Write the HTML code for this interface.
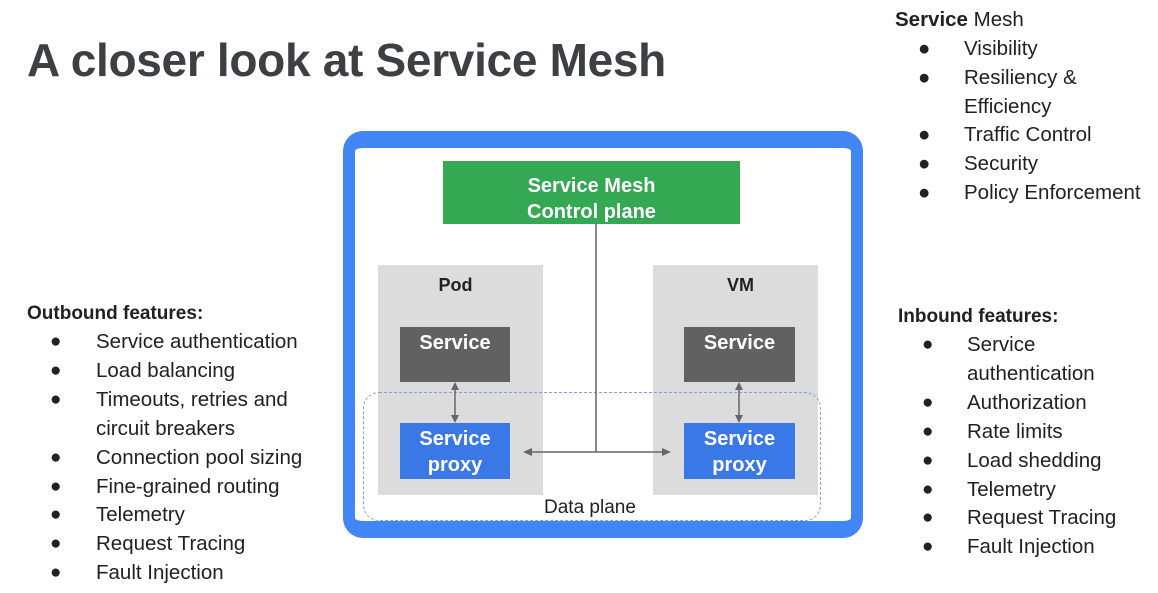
<!DOCTYPE html>
<html><head><meta charset="utf-8"><style>
body{margin:0;width:1158px;height:593px;background:#fff;position:relative;overflow:hidden;font-family:"Liberation Sans",sans-serif;color:#202124}
.a{position:absolute;white-space:nowrap}
.t{font-size:20.5px;line-height:29px}
.box{position:absolute;color:#fff;font-weight:bold;font-size:20px;text-align:center;line-height:26px}
</style></head><body>
<div class="a" style="left:27px;top:33px;font-size:46px;font-weight:bold;color:#3c4043;letter-spacing:-0.3px">A closer look at Service Mesh</div>

<div class="a t" style="left:895px;top:5px"><b>Service</b> Mesh</div>
<div class="a t" style="left:918px;top:34px">●</div><div class="a t" style="left:964px;top:34px">Visibility</div>
<div class="a t" style="left:918px;top:63px">●</div><div class="a t" style="left:964px;top:63px">Resiliency &amp;</div>
<div class="a t" style="left:964px;top:92px">Efficiency</div>
<div class="a t" style="left:918px;top:120px">●</div><div class="a t" style="left:964px;top:120px">Traffic Control</div>
<div class="a t" style="left:918px;top:149px">●</div><div class="a t" style="left:964px;top:149px">Security</div>
<div class="a t" style="left:918px;top:178px">●</div><div class="a t" style="left:964px;top:178px">Policy Enforcement</div>

<div class="a t" style="left:27px;top:299px;font-weight:bold;font-size:19px">Outbound features:</div>
<div class="a t" style="left:50px;top:328px;line-height:28.9px;font-size:19px">●<br>●<br>●<br><br>●<br>●<br>●<br>●<br>●</div>
<div class="a t" style="left:96px;top:328px;line-height:28.9px">Service authentication<br>Load balancing<br>Timeouts, retries and<br>circuit breakers<br>Connection pool sizing<br>Fine-grained routing<br>Telemetry<br>Request Tracing<br>Fault Injection</div>

<div class="a t" style="left:898px;top:302px;font-weight:bold;font-size:19px">Inbound features:</div>
<div class="a t" style="left:922px;top:331px;line-height:28.9px;font-size:19px">●<br><br>●<br>●<br>●<br>●<br>●<br>●</div>
<div class="a t" style="left:967px;top:331px;line-height:28.9px">Service<br>authentication<br>Authorization<br>Rate limits<br>Load shedding<br>Telemetry<br>Request Tracing<br>Fault Injection</div>

<div class="a" style="left:343px;top:131px;width:496px;height:373px;border:12px solid #4285f4;border-top-width:17px;border-bottom-width:17px;border-radius:20px"></div>
<div class="box" style="left:443px;top:161px;width:297px;height:63px;background:#34a853;padding-top:12px;box-sizing:border-box">Service Mesh<br>Control plane</div>
<div class="a" style="left:378px;top:265px;width:165px;height:230px;background:#dcdcdc"></div>
<div class="a" style="left:653px;top:265px;width:165px;height:230px;background:#dcdcdc"></div>
<div class="a" style="left:378px;top:275px;width:155px;text-align:center;font-weight:bold;font-size:18px">Pod</div>
<div class="a" style="left:663px;top:275px;width:155px;text-align:center;font-weight:bold;font-size:18px">VM</div>
<div class="box" style="left:400px;top:327px;width:110px;height:55px;background:#616161;padding-top:3px;box-sizing:border-box">Service</div>
<div class="box" style="left:684px;top:327px;width:111px;height:55px;background:#616161;padding-top:3px;box-sizing:border-box">Service</div>
<div class="box" style="left:400px;top:423px;width:110px;height:56px;background:#3b78e7;padding-top:3px;box-sizing:border-box">Service<br>proxy</div>
<div class="box" style="left:684px;top:423px;width:111px;height:56px;background:#3b78e7;padding-top:3px;box-sizing:border-box">Service<br>proxy</div>
<div class="a" style="left:363px;top:392px;width:456px;height:127px;border:1.5px dashed #7ba3e0;border-radius:16px"></div>
<div class="a" style="left:544px;top:497px;font-size:19px">Data plane</div>
<svg class="a" style="left:0;top:0" width="1158" height="593">
<g stroke="#666" stroke-width="1.5" fill="#666">
<line x1="596" y1="224" x2="596" y2="452"/>
<line x1="530" y1="452" x2="664" y2="452"/>
<polygon points="523,452 532,448 532,456" stroke="none"/>
<polygon points="671,452 662,448 662,456" stroke="none"/>
<line x1="455" y1="389" x2="455" y2="416"/>
<polygon points="455,382 451,390 459,390" stroke="none"/>
<polygon points="455,423 451,415 459,415" stroke="none"/>
<line x1="739" y1="389" x2="739" y2="416"/>
<polygon points="739,382 735,390 743,390" stroke="none"/>
<polygon points="739,423 735,415 743,415" stroke="none"/>
</g></svg>
</body></html>
